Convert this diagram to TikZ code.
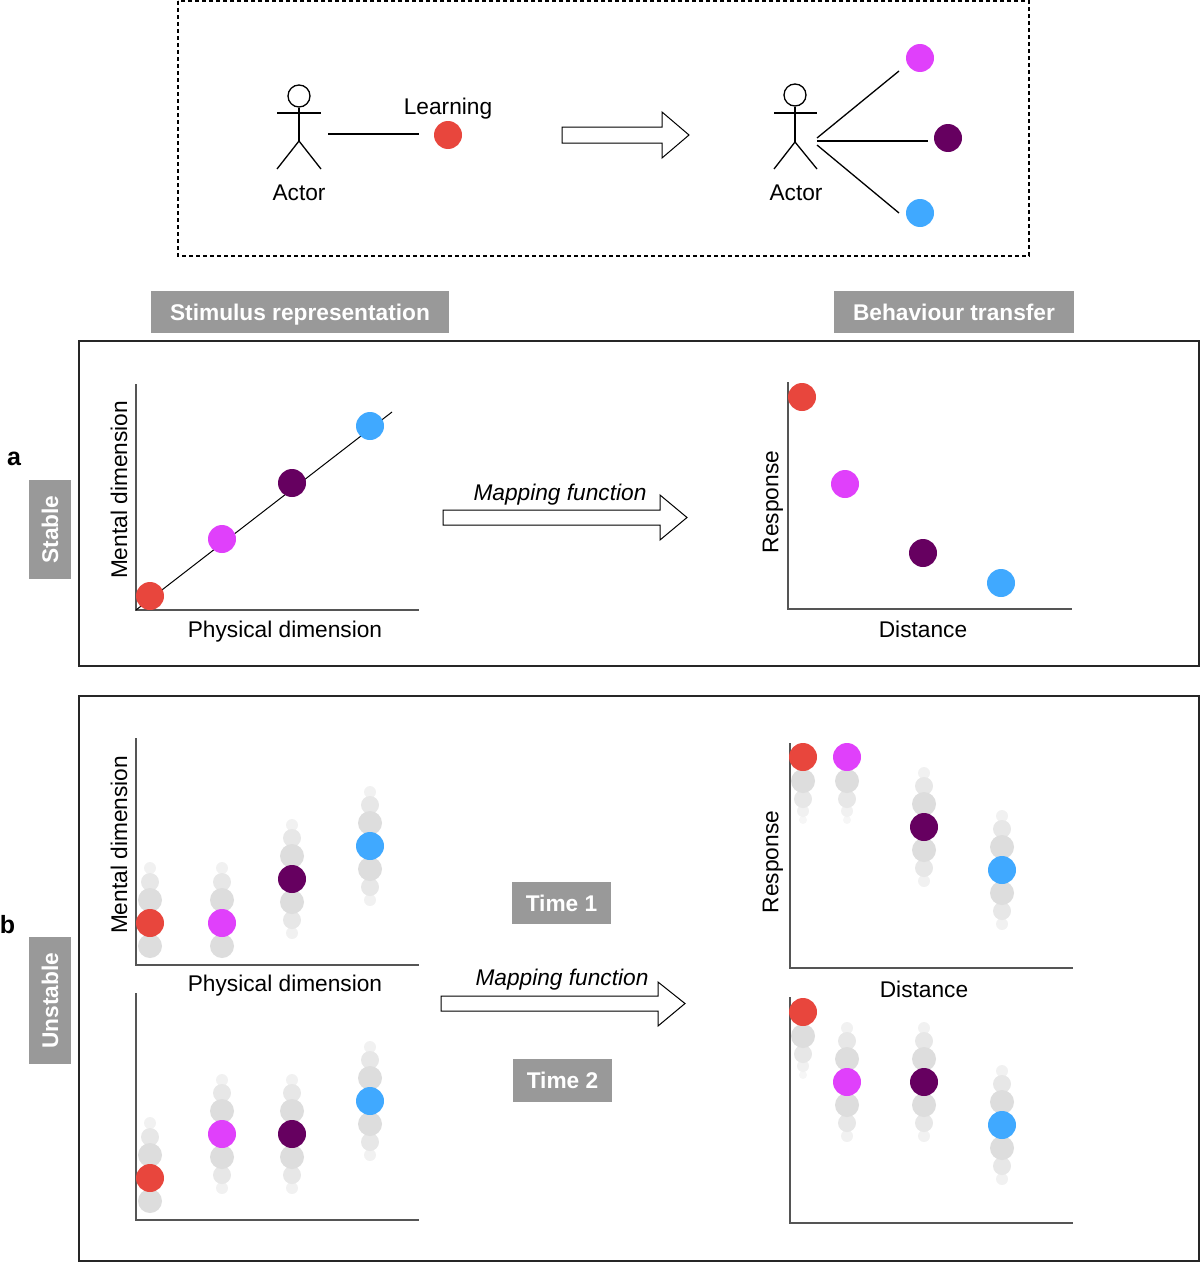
\documentclass[tikz,border=0pt]{standalone}
\usepackage{fontspec}
\setmainfont{Liberation Sans}
\definecolor{cred}{RGB}{232,70,61}
\definecolor{cmag}{RGB}{224,64,251}
\definecolor{cpur}{RGB}{102,0,96}
\definecolor{cblu}{RGB}{64,169,255}
\definecolor{tagGray}{RGB}{153,153,153}
\definecolor{axisgray}{RGB}{85,85,85}
\definecolor{ga}{RGB}{221,221,221}
\definecolor{gb}{RGB}{231,231,231}
\definecolor{gc}{RGB}{241,241,241}
\definecolor{gd}{RGB}{246,246,246}
\tikzset{
  dot/.style={circle, inner sep=0pt, minimum size=28pt},
  gdot/.style={circle, inner sep=0pt},
  lab/.style={font=\fontsize{22.7}{27}\selectfont, inner sep=0pt},
  ital/.style={font=\itshape\fontsize{22.7}{27}\selectfont, inner sep=0pt},
  tag/.style={fill=tagGray, text=white, font=\bfseries\fontsize{22.7}{27}\selectfont, inner sep=0pt, text depth=0pt},
  letter/.style={font=\bfseries\fontsize{25}{30}\selectfont, inner sep=0pt},
  panel/.style={draw=black!85, line width=1.5pt},
  axisline/.style={draw=axisgray, line width=1.5pt},
  stick/.style={draw=black, line width=1.3pt},
  blockarrow/.style={draw=black, line width=1pt, fill=white},
}
\def\fullS{-54/12/gc,54/12/gc,-41/18/gb,41/18/gb,-23/24/ga,23/24/ga}
\def\redS{-55/12/gc,-41/18/gb,-23/24/ga,23/24/ga}
\def\topS{63/8/gd,54/12/gc,42/18/gb,24/24/ga}
\newcommand\dotstack[5]{%
  \foreach \dy/\dd/\cc [count=\i] in #5 {
    \node[gdot, minimum size=\dd pt, fill=\cc] (#1g\i) at (#2,#3+\dy) {};
  }
  \node[dot, fill=#4] (#1) at (#2,#3) {};
}
\begin{document}
\begin{tikzpicture}[x=1pt,y=-1pt]
\useasboundingbox (0,0) rectangle (1200,1263);

% ---------- top dashed box ----------
\draw[dashed, line width=1.2pt, dash pattern=on 4pt off 3pt] (178,1) rectangle (1029,256);

% actor 1
\node[circle, draw, line width=1.3pt, minimum size=22pt, inner sep=0pt] (head1) at (299,96) {};
\draw[stick] (277,113) -- (321,113);
\draw[stick] (head1.south) -- (299,141) coordinate (hip1);
\draw[stick] (277,169) -- (hip1) -- (321,169);
\node[lab, anchor=base] (actor1) at (299,200) {Actor};
\coordinate (a1) at (328,134);
\coordinate (l1) at (419,134);
\node[dot, fill=cred] (learn) at (448,135) {};
\node[lab, anchor=base] (learnlab) at (448,114) {Learning};
\draw[stick] (a1) -- (l1);

% top arrow
\draw[blockarrow] (562,127) -- (662,127) -- (662,112) -- (689,135) -- (662,158) -- (662,143) -- (562,143) -- cycle;

% actor 2
\node[circle, draw, line width=1.3pt, minimum size=22pt, inner sep=0pt] (head2) at (795,95) {};
\draw[stick] (774,113) -- (817,113);
\draw[stick] (head2.south) -- (795,142) coordinate (hip2);
\draw[stick] (774,169) -- (hip2) -- (817,169);
\node[lab, anchor=base] (actor2) at (796,200) {Actor};
\node[dot, fill=cmag] (t1) at (920,58) {};
\node[dot, fill=cpur] (t2) at (948,138) {};
\node[dot, fill=cblu] (t3) at (920,213) {};
\coordinate (s1) at (817,138);
\coordinate (s2) at (817,141);
\coordinate (s3) at (817,145);
\coordinate (e1) at (899,71);
\coordinate (e2) at (928,141);
\coordinate (e3) at (899,213);
\draw[stick] (s1) -- (e1);
\draw[stick] (s2) -- (e2);
\draw[stick] (s3) -- (e3);

% ---------- headers ----------
\node[tag, minimum width=298pt, minimum height=42pt] (hstim) at (300,312) {Stimulus representation};
\node[tag, minimum width=240pt, minimum height=42pt] (hbeh) at (954,312) {Behaviour transfer};

% ---------- panel a ----------
\draw[panel] (79,341) rectangle (1199,666);
\node[letter] (la) at (14,458.5) {a};
\node[tag, rotate=90, minimum width=99pt, minimum height=42pt] (stable) at (50,529.5) {Stable};

\draw[axisline] (136,384) -- (136,610) -- (419,610);
\coordinate (diag0) at (136,610);
\coordinate (diag1) at (392,412);
\draw[black, line width=1pt] (diag0) -- (diag1);
\node[dot, fill=cred] (ar) at (150,596) {};
\node[dot, fill=cmag] (am) at (222,539) {};
\node[dot, fill=cpur] (ap) at (292,483) {};
\node[dot, fill=cblu] (ab) at (370,426) {};
\node[lab, rotate=90] (amental) at (119,490) {Mental dimension};
\node[lab, anchor=base] (aphys) at (285,637) {Physical dimension};

\draw[blockarrow] (443,510) -- (660,510) -- (660,495) -- (687,517.5) -- (660,540) -- (660,525) -- (443,525) -- cycle;
\node[ital, anchor=base] (amap) at (560,500) {Mapping function};

\draw[axisline] (788,382) -- (788,609) -- (1072,609);
\node[dot, fill=cred] (br) at (802,397) {};
\node[dot, fill=cmag] (bm) at (845,484) {};
\node[dot, fill=cpur] (bp) at (923,553) {};
\node[dot, fill=cblu] (bb) at (1001,583) {};
\node[lab, rotate=90] (aresp) at (773,502) {Response};
\node[lab, anchor=base] (adist) at (923,637) {Distance};

% ---------- panel b ----------
\draw[panel] (79,696) rectangle (1199,1261);
\node[letter] (lb) at (7.5,925) {b};
\node[tag, rotate=90, minimum width=127pt, minimum height=42pt] (unstable) at (50,1000.5) {Unstable};

% top-left
\draw[axisline] (136,738) -- (136,965) -- (419,965);
\dotstack{cr1}{150}{923}{cred}{\redS}
\dotstack{cm1}{222}{923}{cmag}{\redS}
\dotstack{cp1}{292}{879}{cpur}{\fullS}
\dotstack{cb1}{370}{846}{cblu}{\fullS}
\node[lab, rotate=90] (bmental) at (119,845) {Mental dimension};
\node[lab, anchor=base] (bphys) at (285,991) {Physical dimension};

% bottom-left
\draw[axisline] (136,993) -- (136,1220) -- (419,1220);
\dotstack{cr2}{150}{1178}{cred}{\redS}
\dotstack{cm2}{222}{1134}{cmag}{\fullS}
\dotstack{cp2}{292}{1134}{cpur}{\fullS}
\dotstack{cb2}{370}{1101}{cblu}{\fullS}

% middle
\node[tag, minimum width=99pt, minimum height=42pt] (time1) at (561.5,903) {Time 1};
\node[tag, minimum width=99pt, minimum height=43pt] (time2) at (562.5,1080.5) {Time 2};
\draw[blockarrow] (441,996) -- (658,996) -- (658,982) -- (685,1003.5) -- (658,1026) -- (658,1011) -- (441,1011) -- cycle;
\node[ital, anchor=base] (bmap) at (562,985) {Mapping function};

% top-right
\draw[axisline] (790,743) -- (790,968) -- (1073,968);
\dotstack{dr1}{803}{757}{cred}{\topS}
\dotstack{dm1}{847}{757}{cmag}{\topS}
\dotstack{dp1}{924}{827}{cpur}{\fullS}
\dotstack{db1}{1002}{870}{cblu}{\fullS}
\node[lab, rotate=90] (bresp) at (773,862) {Response};
\node[lab, anchor=base] (bdist) at (924,997) {Distance};

% bottom-right
\draw[axisline] (790,997) -- (790,1223) -- (1073,1223);
\dotstack{dr2}{803}{1012}{cred}{\topS}
\dotstack{dm2}{847}{1082}{cmag}{\fullS}
\dotstack{dp2}{924}{1082}{cpur}{\fullS}
\dotstack{db2}{1002}{1125}{cblu}{\fullS}

\end{tikzpicture}
\end{document}
